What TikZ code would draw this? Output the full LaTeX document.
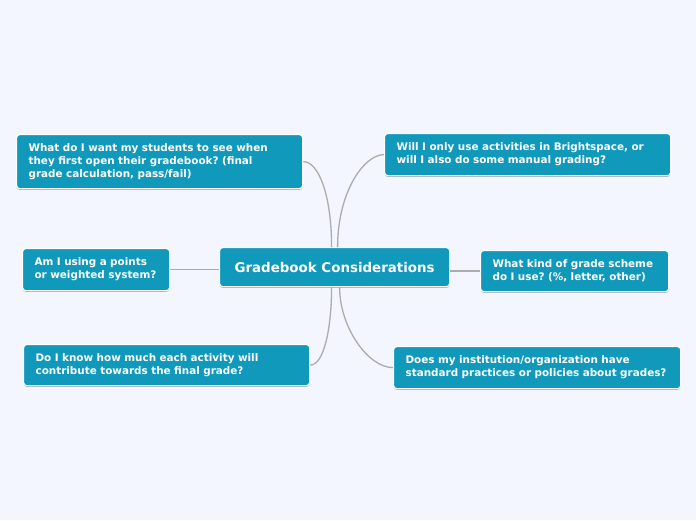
\documentclass[tikz,border=0pt]{standalone}
\usepackage{fontspec}
\setmainfont{DejaVu Sans}
\usetikzlibrary{shadows}
\frenchspacing

\definecolor{bgblue}{RGB}{243,246,254}
\definecolor{boxblue}{RGB}{17,153,187}
\definecolor{linkgray}{RGB}{172,172,172}

\begin{document}
\begin{tikzpicture}[x=1pt,y=-1pt,
    box/.style={draw=white, line width=1.2pt, fill=boxblue, rounded corners=3pt,
                text=white, anchor=north west, inner ysep=0pt,
                drop shadow={shadow xshift=0pt, shadow yshift=-1.2pt, fill=black!50, opacity=.6}},
    topic/.style={box, font=\fontsize{13.4}{15}\selectfont\bfseries, align=center},
    subtopic/.style={box, font=\fontsize{10.4}{13}\selectfont\bfseries, align=left, inner xsep=12pt},
    link/.style={draw=linkgray, line width=1.3pt}]

\useasboundingbox[fill=bgblue] (0,0) rectangle (696,520);

% central topic
\node[topic, minimum width=230pt, minimum height=39pt] (c) at (219,247) {Gradebook Considerations};

% left side
\node[subtopic, text width=262pt, minimum height=54pt] (tl) at (16,134)
    {What do I want my students to see when\\they first open their gradebook? (final\\grade calculation, pass/fail)};
\node[subtopic, text width=123pt, minimum height=42pt] (ml) at (22,248)
    {Am I using a points\\or weighted system?};
\node[subtopic, text width=262pt, minimum height=41pt] (bl) at (23,344)
    {Do I know how much each activity will\\contribute towards the final grade?};

% right side
\node[subtopic, text width=262pt, minimum height=42pt] (tr) at (384,133)
    {Will I only use activities in Brightspace, or\\will I also do some manual grading?};
\node[subtopic, text width=164pt, minimum height=41pt] (mr) at (480,250)
    {What kind of grade scheme\\do I use? (\%, letter, other)};
\node[subtopic, text width=263pt, minimum height=42pt] (br) at (393,346)
    {Does my institution/organization have\\standard practices or policies about grades?};

% connectors
\draw[link] (tl.east) .. controls +(16,0) and +(0,-50) .. ([xshift=-3pt]c.north);
\draw[link] (tr.west) .. controls +(-20,0) and +(0,-55) .. ([xshift=3pt]c.north);
\draw[link] (ml.east) -- (ml.east -| c.west);
\draw[link] (mr.west -| c.east) -- (mr.west);
\draw[link] (bl.east) .. controls +(14,0) and +(0,40) .. ([xshift=-3pt]c.south);
\draw[link] (br.west) .. controls +(-25,0) and +(0,40) .. ([xshift=5pt]c.south);
\end{tikzpicture}
\end{document}
